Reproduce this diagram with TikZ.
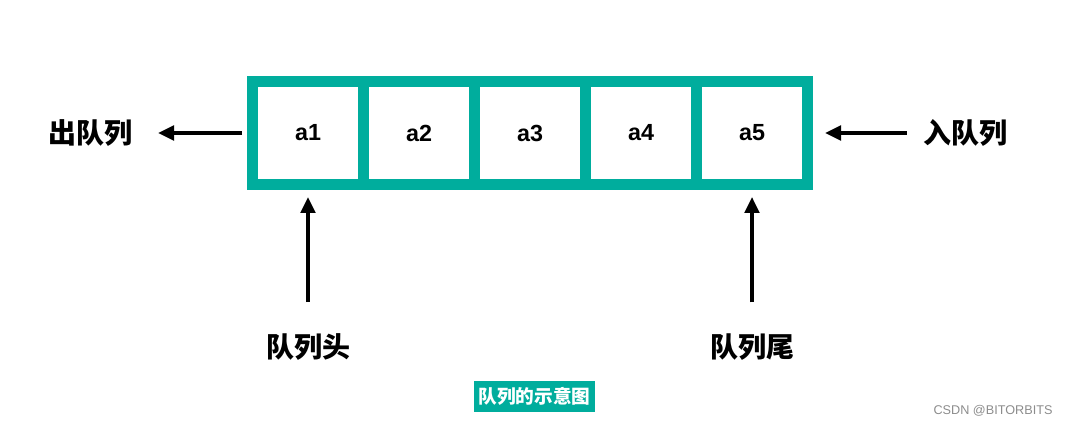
\documentclass[tikz,border=0pt]{standalone}
\usepackage{fontspec}
\setmainfont{Liberation Sans}
\newfontfamily\cjk{Noto Sans CJK SC}
\usetikzlibrary{arrows.meta}
\definecolor{queueteal}{RGB}{0,173,157}
\tikzset{
  cell/.style={draw=queueteal, line width=8.25pt, minimum width=83.25pt,
    minimum height=77.25pt, inner sep=0pt, font=\bfseries\fontsize{17.5}{20}\selectfont},
  tag/.style={font=\cjk\bfseries\fontsize{21}{25}\selectfont},
  arr/.style={-{Triangle[length=12pt,width=11pt]}, line width=2.5pt}
}
\begin{document}
\begin{tikzpicture}[x=0.75pt, y=-0.75pt]
              \useasboundingbox (0,0) rectangle (1071,427);
              % the queue
              \node[cell](a1) at (308,133) {a1};
              \node[cell](a2) at (419,133) {a2};
              \node[cell](a3) at (530,133) {a3};
              \node[cell](a4) at (641,133) {a4};
              \node[cell](a5) at (752,133) {a5};

              \node[tag](out) at (90,133) {出队列};
              \node[tag](in) at (965,133) {入队列};
              \node[tag](head) at (308,347) {队列头};
              \node[tag](tail) at (752,347) {队列尾};

              \draw[arr, shorten <=3.75pt, shorten >=16pt] (a1.west) -- (out.east);
              \draw[arr, shorten <=8.5pt, shorten >=9pt] (in.west) -- (a5.east);
              \draw[arr, shorten <=20pt, shorten >=5.25pt] (head.north) -- (a1.south);
              \draw[arr, shorten <=20pt, shorten >=5.25pt] (tail.north) -- (a5.south);

              % caption and mark
              \node[fill=queueteal, text=white, minimum width=90.75pt, minimum height=23.25pt,
                    inner sep=0pt, font=\cjk\bfseries\fontsize{14}{16}\selectfont](cap) at (534.5,396.5) {队列的示意图};
              \node[text=black!45, font=\fontsize{9.5}{11}\selectfont](mark) at (993,411) {CSDN @BITORBITS};
            \end{tikzpicture}
\end{document}
